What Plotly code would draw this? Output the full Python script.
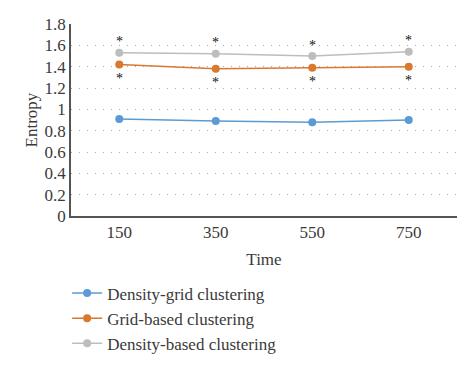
import plotly.graph_objects as go

times = ["150", "350", "550", "750"]
density_grid = [0.91, 0.89, 0.88, 0.90]
grid_based = [1.42, 1.38, 1.39, 1.40]
density_based = [1.53, 1.52, 1.50, 1.54]
y_ticks = [0, 0.2, 0.4, 0.6, 0.8, 1.0, 1.2, 1.4, 1.6, 1.8]
y_tick_labels = ["0", "0.2", "0.4", "0.6", "0.8", "1", "1.2", "1.4", "1.6", "1.8"]

FONT = "Liberation Serif"
TXT = "#3a3a3a"

fig = go.Figure()
series = [
    ("Density-grid clustering", density_grid, "#5B9BD5"),
    ("Grid-based clustering", grid_based, "#D9782F"),
    ("Density-based clustering", density_based, "#BDBDBD"),
]
for name, vals, col in series:
    fig.add_trace(go.Scatter(
        x=times, y=vals, name=name, mode="lines+markers",
        line=dict(color=col, width=1.5),
        marker=dict(color=col, size=8),
    ))

annotations = []
for i, v in enumerate(density_based):
    annotations.append(dict(x=i, y=v, xref="x", yref="y", text="*", showarrow=False, yshift=11,
                            font=dict(family=FONT, size=14, color="#111111")))
for i, v in enumerate(grid_based):
    annotations.append(dict(x=i, y=v, xref="x", yref="y", text="*", showarrow=False, yshift=-14,
                            font=dict(family=FONT, size=14, color="#111111")))

fig.update_layout(
    width=474, height=366,
    margin=dict(l=63, r=25, t=16, b=158, autoexpand=False),
    paper_bgcolor="white", plot_bgcolor="white",
    font=dict(family=FONT, size=17, color=TXT),
    showlegend=True,
    legend=dict(x=-0.01, y=-0.31,
                xanchor="left", yanchor="top", font=dict(size=17, color=TXT),
                itemwidth=30, tracegroupgap=0, bgcolor="rgba(0,0,0,0)"),
    annotations=annotations,
)
fig.update_xaxes(
    type="category", range=[-0.5, 3.5], showgrid=False,
    showline=True, linecolor="#555", linewidth=1.5, ticks="",
    title=dict(text="Time", standoff=12, font=dict(size=17)),
    tickfont=dict(size=17),
)
fig.update_yaxes(
    range=[0, 1.8], tickvals=y_ticks, ticktext=y_tick_labels,
    showgrid=True, gridcolor="#AAAAAA", gridwidth=1, griddash="1px,7px",
    showline=True, linecolor="#555", linewidth=1.5, zeroline=False, ticks="",
    title=dict(text="Entropy", standoff=3, font=dict(size=17)),
    tickfont=dict(size=17),
)

fig.write_html("out.html")
